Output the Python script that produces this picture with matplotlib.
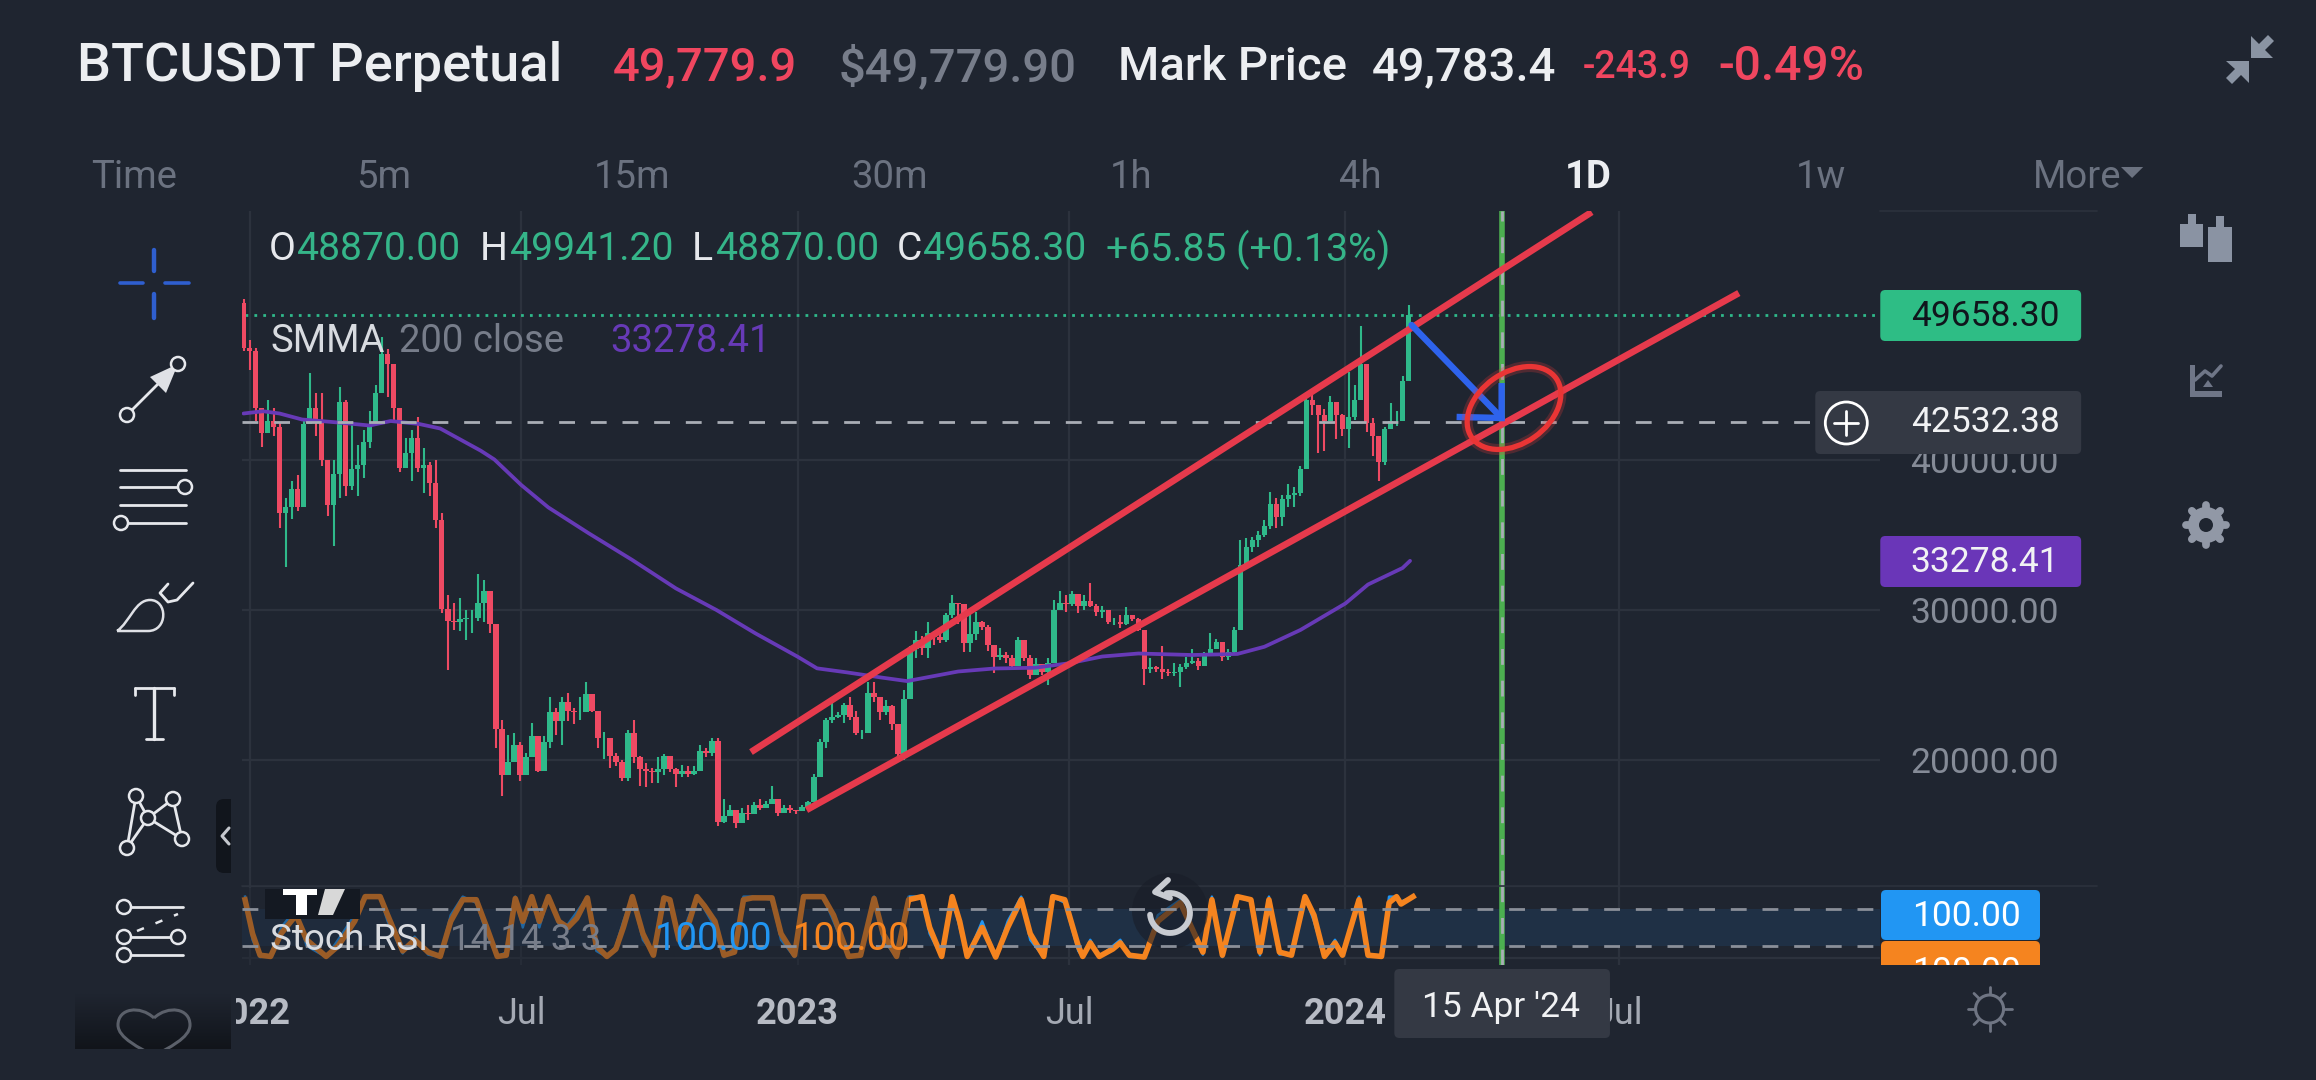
import numpy as np
import matplotlib
matplotlib.use("Agg")
import matplotlib.pyplot as plt
import matplotlib.dates as mdates
from matplotlib.patches import Rectangle, Circle, Ellipse, FancyBboxPatch, Polygon, PathPatch
from matplotlib.path import Path

plt.rcParams['font.family'] = ['Roboto', 'DejaVu Sans']

# ---------- data ----------
first_candle = '2021-12-28'
candle_step_days = 4
first_open = 50.5
close_k = [47.5,47.3,43.5,41.8,42.6,42.2,36.5,36.9,38.1,36.9,42.4,43.5,42.5,40.0,37.0,39.1,
           43.9,38.3,39.4,39.7,41.2,42.4,44.5,47.1,46.4,43.5,39.5,40.5,41.5,39.5,39.7,38.5,
           36.0,30.1,29.3,29.2,29.4,29.5,29.5,30.5,31.3,29.1,22.1,19.0,19.9,21.0,19.0,20.2,
           21.6,19.3,21.2,23.2,22.6,23.9,23.3,23.2,23.2,24.4,23.3,21.5,21.5,20.3,19.9,18.8,
           21.8,20.2,19.4,19.3,19.2,19.4,20.3,19.4,19.1,19.3,19.1,19.3,20.6,20.5,21.3,15.9,
           16.3,16.7,15.8,16.5,16.4,17.0,16.8,17.1,17.4,16.5,16.8,16.7,16.6,16.9,17.2,18.9,
           21.2,22.7,22.9,23.0,23.7,22.9,21.8,21.8,24.5,24.2,23.2,23.6,22.4,20.4,24.1,27.4,
           28.0,27.5,28.5,28.2,28.0,29.7,30.5,30.4,27.8,28.4,29.2,28.9,27.7,26.9,27.0,26.8,
           26.3,28.0,26.8,25.7,26.4,25.9,26.5,30.0,30.5,30.4,31.1,30.3,30.6,30.3,29.9,30.0,
           29.2,29.2,29.1,29.7,29.4,28.7,26.1,26.2,26.1,25.9,25.8,25.9,26.2,26.5,26.6,26.3,
           27.0,27.4,27.9,26.9,27.2,28.7,33.0,34.2,34.7,35.0,35.6,37.1,36.2,37.4,37.7,37.8,
           39.4,44.0,43.7,43.0,42.6,43.9,43.0,42.1,42.9,44.0,46.4,42.5,41.6,39.9,42.1,42.6,
           42.6,45.3,49.66]
high_k = [50.7,48.0,47.5,42.8,44.0,43.5,42.5,37.5,38.6,39.0,42.6,45.8,44.5,44.5,39.5,40.0,
          44.9,44.0,42.5,41.0,42.0,43.3,45.0,48.2,47.4,46.0,43.0,41.5,42.0,42.9,40.8,39.9,
          40.0,36.5,31.0,30.5,30.8,30.0,30.0,32.4,32.0,31.0,29.0,22.7,21.7,21.8,21.2,20.5,
          22.5,21.5,21.6,24.2,23.5,24.2,24.5,23.5,24.2,25.2,24.4,23.2,21.9,20.6,20.5,20.0,
          22.0,22.7,20.3,19.8,19.5,20.2,20.4,20.0,19.5,19.7,19.6,19.6,21.0,20.8,21.5,21.5,
          17.4,17.0,16.6,16.8,17.0,17.2,17.4,17.3,18.3,17.4,17.0,17.0,16.7,17.0,17.3,19.1,
          21.4,22.8,23.8,23.2,23.8,24.2,23.3,22.0,25.2,25.2,24.2,24.0,23.7,22.0,24.7,27.6,
          28.6,28.3,29.2,28.6,28.8,29.8,31.0,30.5,28.5,30.0,29.9,29.3,29.0,27.6,27.5,27.2,
          27.0,28.2,27.4,27.0,26.8,26.4,26.8,30.7,31.3,31.0,31.3,31.0,31.0,31.8,30.4,30.3,
          29.9,29.5,29.7,30.2,29.7,29.5,28.7,26.8,26.3,27.6,26.1,26.5,26.4,26.9,27.4,26.8,
          27.2,28.5,28.1,27.9,27.4,28.9,34.7,34.8,34.9,35.3,36.0,37.9,37.5,37.7,38.4,38.2,
          39.6,44.4,44.7,43.4,43.4,44.3,43.7,43.1,45.9,45.0,48.9,43.5,42.8,41.5,42.2,43.8,
          43.3,45.6,50.3]
low_k = [47.3,46.0,42.6,40.9,41.9,41.6,35.5,32.9,36.1,36.6,37.0,42.8,41.6,39.6,36.3,34.3,
         37.5,37.6,38.0,37.6,38.8,40.8,42.5,44.8,44.2,42.7,39.2,39.6,38.6,39.2,37.8,37.6,
         35.5,29.8,26.0,28.7,28.6,28.0,28.5,29.3,29.2,28.5,20.8,17.6,19.6,20.3,18.6,19.0,
         20.2,19.2,19.6,20.8,21.7,21.0,22.6,22.4,22.7,23.6,23.2,20.8,20.1,19.5,19.6,18.6,
         18.6,19.8,18.3,18.2,18.5,18.5,19.0,19.2,18.2,18.9,18.9,19.0,19.3,20.2,20.3,15.6,
         15.8,16.4,15.5,15.9,16.0,16.8,16.7,16.8,17.1,16.3,16.6,16.5,16.4,16.6,16.8,17.3,
         18.9,20.8,22.5,22.8,22.5,22.7,21.7,21.4,21.8,23.9,22.7,23.0,22.0,20.0,20.0,24.1,
         26.8,27.0,26.8,27.7,27.8,27.9,29.5,29.1,27.2,27.2,28.0,28.7,27.3,25.8,26.7,26.5,
         26.0,26.7,26.6,25.4,26.2,25.7,25.0,26.6,30.0,29.9,30.3,29.8,30.0,30.2,29.6,29.5,
         29.1,29.0,28.8,29.0,29.3,28.6,25.0,25.8,25.9,25.4,25.6,25.6,24.9,26.1,26.4,26.0,
         26.3,27.1,27.4,26.6,26.7,27.1,29.8,33.4,33.9,34.2,34.9,35.4,35.5,35.6,36.9,36.9,
         37.6,39.4,43.0,40.5,40.6,42.6,41.4,41.6,40.8,42.7,44.5,41.9,40.3,38.6,39.7,42.3,
         42.3,42.7,47.6]

smma_dates = ['2021-12-28','2022-01-10','2022-01-21','2022-02-05','2022-03-01','2022-03-22','2022-04-05',
              '2022-04-24','2022-05-08','2022-06-04','2022-06-13','2022-07-01','2022-07-19','2022-08-15',
              '2022-09-13','2022-10-12','2022-11-08','2022-12-04','2023-01-01','2023-01-14','2023-02-03',
              '2023-02-25','2023-03-15','2023-04-18','2023-05-12','2023-06-08','2023-07-01','2023-07-23',
              '2023-08-16','2023-09-21','2023-10-21','2023-11-08','2023-12-02','2024-01-01','2024-01-16',
              '2024-02-08','2024-02-13']
smma_values = [43100,43250,43100,42700,42500,42300,42600,42400,42100,40620,40040,38330,36840,35110,
               33330,31440,30000,28440,26890,26110,25840,25510,25260,25900,26100,26150,26450,26900,
               27100,27000,27070,27550,28670,30440,31700,32800,33278.41]

rsi_origin = '2023-01-01'
rsi_days = [-368,-363,-358,-351,-344,-334,-327,-314,-306,-295,-288,-278,-273,-263,-255,-246,-238,-231,
            -223,-214,-207,-200,-194,-188,-183,-177,-172,-166,-159,-153,-147,-140,-134,-127,-121,-116,
            -110,-103,-96,-89,-85,-79,-72,-67,-62,-55,-49,-42,-36,-30,-17,-11,-2,4,17,24,34,42,51,57,
            66,74,83,88,96,103,108,113,123,132,140,149,155,164,170,178,187,190,195,201,210,215,221,231,
            240,255,270,276,283,293,302,308,314,321,329,338,344,351,358,363,374,380,389,394,399,402,410]
rsi_d = [95,40,5,3,40,70,30,3,20,60,100,100,70,12,30,10,3,60,
         95,95,50,3,5,97,60,100,60,100,60,50,65,98,20,3,15,50,
         100,40,5,98,95,30,60,100,85,60,5,10,95,98,98,40,5,100,100,70,3,5,97,40,
         3,95,100,50,3,100,60,3,50,2,50,95,40,3,100,95,20,3,25,3,15,25,5,2,
         60,90,10,95,5,100,95,10,95,10,5,100,70,3,25,5,95,5,3,90,100,88,100]
rsi_k = [100,30,2,5,50,80,20,2,30,70,100,98,60,8,35,6,2,70,
         100,90,40,2,10,100,50,100,50,100,55,55,75,100,12,2,20,60,
         100,30,8,100,90,25,70,100,80,50,2,18,100,100,95,30,2,100,100,60,2,8,100,30,
         2,100,100,40,2,100,50,2,60,2,60,100,30,2,100,90,12,2,30,2,20,30,2,2,
         70,95,6,100,2,100,92,5,100,6,8,100,60,2,30,6,100,2,5,100,100,92,100]

price_ticks = [20000, 30000, 40000]
x_tick_dates = ['2022-01-01','2022-07-01','2023-01-01','2023-07-01','2024-01-01','2024-07-01']
x_tick_labels = ['2022','Jul','2023','Jul','2024','Jul']
last_close = 49658.30
crosshair_price = 42532.38
last_smma = 33278.41
crosshair_date = '2024-04-14'
upper_channel_dates = ['2022-12-01','2024-06-13']
upper_channel_prices = [20530,56530]
lower_channel_dates = ['2023-01-07','2024-09-19']
lower_channel_prices = [16670,51130]
arrow_dates = ['2024-02-14','2024-04-14']
arrow_prices = [49000,42800]
arrow_barb_dates = ['2024-03-15','2024-04-14','2024-04-14']
arrow_barb_prices = [42870,42800,45130]

# ---------- colours ----------
BG = '#1f2530'
GRID = '#2c323d'
UP = '#2fb98a'
DOWN = '#ee4a63'
RED = '#e63a4c'
PURPLE = '#673ab7'
WHITE = '#e6e8ec'
GREY = '#858b97'
TAB = '#6b7280'
ORANGE = '#f5841f'
BLUE = '#2196f3'

W, H = 2316, 1080
fig = plt.figure(figsize=(W/100, H/100), dpi=100, facecolor=BG)

def px_axes(x0, y0, x1, y1, **kw):
    return fig.add_axes([x0/W, 1-y1/H, (x1-x0)/W, (y1-y0)/H], **kw)

def D(s):
    return mdates.date2num(np.datetime64(s))

def Ds(lst):
    return [D(s) for s in lst]

# ---------- scales ----------
PPD = 1.5013
x_ref = D('2024-01-01')
L, R = 242, 1880
xlim = (x_ref + (L-1345.5)/PPD, x_ref + (R-1345.5)/PPD)

ax = px_axes(L, 211, R, 886, facecolor=BG)
rx = px_axes(L, 886, R, 965, facecolor=BG)
for a in (ax, rx):
    a.set_xlim(*xlim)
    for s in a.spines.values():
        s.set_visible(False)
    a.set_xticks(Ds(x_tick_dates))
    a.grid(True, axis='x', color=GRID, lw=1.6)
    a.set_axisbelow(True)
ax.set_ylim(40000-(886-460)/0.015, 40000+(460-211)/0.015)
rx.set_ylim((958.3-965)/0.6167, (958.3-886)/0.6167)

ax.tick_params(axis='x', length=0, labelbottom=False)
ax.yaxis.tick_right()
ax.set_yticks(price_ticks)
ax.set_yticklabels(['%.2f' % p for p in price_ticks], fontsize=25.5, color=GREY)
ax.tick_params(axis='y', length=0, pad=22)
ax.grid(True, axis='y', color=GRID, lw=1.6)

rx.set_xticklabels(x_tick_labels, fontsize=26, color='#a4a9b3')
for lab, t in zip(rx.get_xticklabels(), x_tick_labels):
    if t.isdigit():
        lab.set_fontweight('bold')
        lab.set_color('#b7bbc4')
rx.tick_params(axis='x', length=0, pad=22)
rx.set_yticks([0, 117])
rx.set_yticklabels([])
rx.tick_params(axis='y', length=0)
rx.grid(True, axis='y', color=GRID, lw=1.6)

# ---------- candles ----------
close_v = np.array(close_k)*1000
high_v = np.array(high_k)*1000
low_v = np.array(low_k)*1000
open_v = np.r_[first_open*1000, close_v[:-1]]
dates = D(first_candle) + np.arange(len(close_v))*candle_step_days
cols = [UP if c >= o else DOWN for o, c in zip(open_v, close_v)]
ax.vlines(dates, low_v, high_v, colors=cols, lw=1.5, zorder=3)
ax.bar(dates, np.abs(close_v-open_v), bottom=np.minimum(open_v, close_v), width=3.7, color=cols, zorder=3, lw=0)

# ---------- lines on the price pane ----------
ax.plot(Ds(smma_dates), smma_values, color=PURPLE, lw=2.7, zorder=4, solid_capstyle='round')
ax.axhline(last_close, xmin=0.002, color=UP, lw=2.0, ls=(0, (1, 2.2)), zorder=2)
ax.axvline(D(crosshair_date), color='#4caf50', lw=4.0, zorder=4)
ax.axvline(D(crosshair_date), color='#a9adb5', lw=2.0, ls=(0, (5.7, 5.7)), zorder=4.5)
ax.axhline(crosshair_price, color='#a9adb5', lw=2.0, ls=(0, (5.7, 5.7)), zorder=4.5)
ax.plot(Ds(upper_channel_dates), upper_channel_prices, color=RED, lw=4.8, zorder=5, solid_capstyle='butt')
ax.plot(Ds(lower_channel_dates), lower_channel_prices, color=RED, lw=4.8, zorder=5, solid_capstyle='butt')
ax.plot(Ds(arrow_dates), arrow_prices, color='#2e63ec', lw=4.6, zorder=6, solid_capstyle='round')
ax.plot(Ds(arrow_barb_dates), arrow_barb_prices, color='#2e63ec', lw=4.6, zorder=6, solid_capstyle='butt', solid_joinstyle='miter')

# ---------- stochastic pane ----------
rd = D(rsi_origin) + np.array(rsi_days)
rx.axhspan(20, 80, color='#1f3045', lw=0, zorder=1)
rx.plot(rd, rsi_k, color=BLUE, lw=1.8, zorder=3, clip_on=False)
rx.plot(rd, rsi_d, color=ORANGE, lw=4.0, zorder=4, clip_on=False, solid_joinstyle='round')
rx.axvline(D(crosshair_date), color='#4caf50', lw=4.0, zorder=2)
rx.axvline(D(crosshair_date), color='#a9adb5', lw=2.0, ls=(0, (5.7, 5.7)), zorder=2.5)

# ---------- overlay for the app chrome ----------
ov = fig.add_axes([0, 0, 1, 1], zorder=10, facecolor='none')
ov.set_xlim(0, W)
ov.set_ylim(H, 0)
ov.axis('off')

def T(x, y, s, size, color, ha='left', weight='normal', va='center', z=20, **kw):
    return ov.text(x, y, s, fontsize=size, color=color, ha=ha, va=va, fontweight=weight, zorder=z, **kw)

def S(x):
    return x*W/1568

def rrect(x0, y0, x1, y1, color, r=5, z=12, alpha=1):
    p = FancyBboxPatch((x0+r, y0+r), x1-x0-2*r, y1-y0-2*r, boxstyle=f'round,pad={r},rounding_size={r}',
                       fc=color, ec='none', zorder=z, alpha=alpha)
    ov.add_patch(p)
    return p

def seg(xs, ys, color=WHITE, lw=2, z=15, **kw):
    ov.plot(xs, ys, color=color, lw=lw, zorder=z, solid_capstyle='round', **kw)

def ring(x, y, r=7, color=WHITE, lw=1.8, z=16):
    ov.add_patch(Circle((x, y), r, fc=BG, ec=color, lw=lw, zorder=z))

# long grid lines reaching past the price axis
seg([R, 2097], [211, 211], GRID, 1.2, z=1)
seg([L, 2097], [886, 886], GRID, 1.2, z=1)

# dim veil over the stochastic line below the legend
ov.add_patch(Rectangle((L, 888), 909-L, 78, fc=BG, ec='none', alpha=0.42, zorder=5))
ov.add_patch(Circle((1170, 911), 38, fc='#191e28', ec='none', alpha=0.62, zorder=5))
# stochastic guide lines above the line
seg([L, R], [909, 909], '#8a8f99', 2.0, z=6, ls=(0, (5.7, 5.7)))
seg([L, R], [946, 946], '#8a8f99', 2.0, z=6, ls=(0, (5.7, 5.7)))

# header
HY = 67
T(77, HY, 'BTCUSDT Perpetual', 39, '#eceef1', weight='medium')
T(613, HY, '49,779.9', 34, '#f0465f', weight='medium')
T(839, HY, '$49,779.90', 34, '#777d8a', weight='medium')
T(1118, HY, 'Mark Price', 34, '#eceef1', weight='medium')
T(1372, HY, '49,783.4', 34, '#eceef1', weight='medium')
T(1583, HY, '-243.9', 27, '#f0465f', weight='medium')
T(1718, HY, '-0.49%', 34.5, '#f0465f', weight='medium')

# tabs
TY = 178
T(S(62), TY, 'Time', 27.5, TAB)
for cx, s in [(260, '5m'), (428, '15m'), (602, '30m'), (766, '1h'), (921, '4h'), (1233, '1w')]:
    T(S(cx), TY, s, 27.5, TAB, ha='center')
T(S(1075), TY, '1D', 27.5, '#eceef1', ha='center', weight='bold')
T(S(1376), TY, 'More', 27.5, TAB)
ov.add_patch(Polygon([(S(1436), 167), (S(1451), 167), (S(1443.5), 178)], fc=TAB, ec='none', zorder=20))

# legend rows
OY = 250
GREEN_T = '#35b589'
for x, s, c in [(182, 'O', WHITE), (201, '48870.00', GREEN_T), (325, 'H', WHITE), (345, '49941.20', GREEN_T),
                (468, 'L', WHITE), (485, '48870.00', GREEN_T), (607, 'C', WHITE), (625, '49658.30', GREEN_T),
                (749, '+65.85 (+0.13%)', GREEN_T)]:
    T(S(x), OY, s, 28.2, c)
SY = 341
T(S(183), SY, 'SMMA', 27.5, '#d8dbe0')
T(S(270), SY, '200 close', 27.5, '#777d8a')
T(S(413), SY, '33278.41', 27.5, PURPLE)

# stochastic legend + logo
ov.add_patch(Rectangle((265, 889), 95, 30, fc='#141922', ec='none', zorder=7))
ov.add_patch(Polygon([(283, 889), (317, 889), (317, 895), (307, 895), (307, 915), (296, 915), (296, 895), (283, 895)],
                     fc='white', ec='none', zorder=8))
ov.add_patch(Polygon([(325, 889), (345, 889), (333, 915), (318, 915)], fc='#d8d8d8', ec='none', zorder=8))
LY = 940
T(S(183), LY, 'Stoch RSI', 26.5, '#d8dbe0')
T(S(305), LY, '14 14 3 3', 26.5, '#777d8a')
T(S(443), LY, '100.00', 27.5, BLUE)
T(S(537), LY, '100.00', 27.5, ORANGE)

# undo icon
th = np.linspace(np.radians(-100), np.radians(175), 40)
seg(1170+20*np.cos(th), 913+20*np.sin(th), '#c8cbd1', 4.2)
seg([1168, 1155, 1170], [880, 892, 898], '#c8cbd1', 4.2)

# price labels
LX0, LX1 = S(1273), S(1409)
LC = 1985
rrect(LX0, 290, LX1, 341, '#2ebd85')
T(LC, 316, '49658.30', 25.5, '#10151c', ha='center')
rrect(S(1229), 391, LX1, 454, '#343944')
T(LC, 423, '42532.38', 25.5, '#f1f2f4', ha='center')
ov.add_patch(Circle((S(1250), 423), 21, fc='none', ec='white', lw=2, zorder=16))
seg([S(1250)-12, S(1250)+12], [423, 423], 'white', 2)
seg([S(1250), S(1250)], [411, 435], 'white', 2)
rrect(LX0, 536, LX1, 587, '#6a36b8')
T(LC, 562, '33278.41', 25.5, '#f1f2f4', ha='center')
rrect(1881, 890, 2040, 940, BLUE)
T(1966, 916, '100.00', 25.5, 'white', ha='center')
orange_box = rrect(1881, 941, 2040, 975, ORANGE)
clip = Rectangle((1881, 880), 170, 85, transform=ov.transData)
orange_box.set_clip_path(clip)
t = T(1966, 973, '100.00', 25.5, 'white', ha='center')
t.set_clip_on(True)
t.set_clip_path(clip)

# ellipse annotation
ov.add_patch(Ellipse((1514, 408), 103, 71, angle=-35, fc='none', ec='#e63a3a', lw=8, alpha=0.25, zorder=11))
ov.add_patch(Ellipse((1514, 408), 103, 71, angle=-35, fc='none', ec='#ea3535', lw=3.8, zorder=11))

# date bubble
rrect(S(944), 969, S(1090), 1038, '#343944', r=5)
T(S(1016), 1007, "15 Apr '24", 25.5, '#f1f2f4', ha='center')

# left toolbar
BL = '#2f5fcf'
seg([120, 143], [283, 283], BL, 2.6)
seg([165, 189], [283, 283], BL, 2.6)
seg([154, 154], [250, 271], BL, 3.2)
seg([154, 154], [294, 318], BL, 3.2)
IC = '#dfe1e6'
seg([127, 178], [415, 364])
ov.add_patch(Polygon([(178, 364), (150, 377), (166, 393)], fc=IC, ec='none', zorder=15))
ring(127, 415); ring(178, 364)
for y, x0, x1 in [(470, 120, 186), (487, 120, 186), (505, 120, 186), (523, 121, 186)]:
    seg([x0, x1], [y, y])
ring(185, 487); ring(121, 523)
brush = Path([(117, 631), (130, 622), (135, 600), (150, 600), (168, 600), (168, 631), (148, 631), (135, 631), (125, 631), (117, 631)],
             [Path.MOVETO] + [Path.CURVE4]*9)
ov.add_patch(PathPatch(brush, fc='none', ec=IC, lw=1.8, zorder=15))
seg([193, 177, 168, 160, 168], [583, 600, 602, 593, 584])
seg([135, 174], [688, 688]); seg([135, 135], [688, 695]); seg([174, 174], [688, 695])
seg([154, 154], [688, 739], lw=2.4); seg([146, 163], [739, 739])
pts = {'a': (136, 796), 'b': (173, 799), 'c': (148, 818), 'd': (127, 848), 'e': (182, 839)}
for p, q in [('a', 'c'), ('a', 'd'), ('c', 'd'), ('c', 'b'), ('c', 'e'), ('b', 'e')]:
    seg([pts[p][0], pts[q][0]], [pts[p][1], pts[q][1]])
for v in pts.values():
    ring(*v)
seg([124, 183], [907, 907]); seg([124, 178], [937, 937]); seg([124, 183], [955, 955])
seg([137, 178], [931, 914], lw=1.8, ls=(0, (3, 5)))
for v in [(124, 907), (124, 937), (124, 955), (178, 937)]:
    ring(*v)

# favourite box at the bottom of the toolbar, hiding the start of the date row
ov.add_patch(Rectangle((75, 969), 161, 80, fc=BG, ec='none', zorder=13))
shade = np.linspace(1.0, 0.55, 30)[:, None, None] * np.array([[[0x1f, 0x25, 0x30]]])/255
ov.imshow(shade, extent=(75, 231, 1049, 993), aspect='auto', zorder=14)
ov.set_xlim(0, W); ov.set_ylim(H, 0)
heart = Path([(154, 1018), (140, 1005), (118, 1008), (118, 1025), (118, 1038), (140, 1048), (154, 1056),
              (168, 1048), (190, 1038), (190, 1025), (190, 1008), (168, 1005), (154, 1018)],
             [Path.MOVETO] + [Path.CURVE4]*12)
hp = PathPatch(heart, fc='none', ec='#5b606a', lw=2.2, zorder=15)
ov.add_patch(hp)
hp.set_clip_path(Rectangle((75, 993), 156, 56, transform=ov.transData))

# collapse tab
rrect(216, 799, 240, 873, '#11151c', r=8, z=12)
ov.add_patch(Rectangle((231, 795), 12, 82, fc=BG, ec='none', zorder=12.5))
seg([229, 222, 229], [828, 836, 844], '#c4c7cd', 2.2)

# right icons
IR = '#8a93a3'
for x0, y0, x1, y1 in [(2180, 224, 2203, 247), (2188, 214, 2196, 224), (2208, 227, 2232, 262), (2216, 216, 2224, 227)]:
    ov.add_patch(Rectangle((x0, y0), x1-x0, y1-y0, fc=IR, ec='none', zorder=15))
IC2 = '#6f7687'
ov.add_patch(Polygon([(2190, 365), (2195, 365), (2195, 391), (2222, 391), (2222, 397), (2190, 397)], fc=IC2, ec='none', zorder=15))
seg([2195, 2205, 2212, 2221], [380, 371, 376, 366], IC2, 2.6)
ov.add_patch(Polygon([(2208, 380), (2203, 387), (2213, 387)], fc=IC2, ec='none', zorder=15))
gx, gy = 2206, 525
GC = '#9198a6'
for ang in np.arange(0, 360, 45):
    a = np.radians(ang)
    seg([gx+14*np.cos(a), gx+20*np.cos(a)], [gy+14*np.sin(a), gy+20*np.sin(a)], GC, 5.6)
ov.add_patch(Circle((gx, gy), 18, fc=GC, ec='none', zorder=15))
ov.add_patch(Circle((gx, gy), 7, fc=BG, ec='none', zorder=16))
# compress icon
CC = '#8a94a3'
ov.add_patch(Polygon([(2251, 58), (2251, 36), (2259, 44), (2268, 35), (2274, 41), (2265, 50), (2273, 58)], fc=CC, ec='none', zorder=15))
ov.add_patch(Polygon([(2249, 61), (2249, 83), (2241, 75), (2232, 84), (2226, 78), (2235, 69), (2226, 61)], fc=CC, ec='none', zorder=15))
# sun icon
sx, sy = S(1347), 1009
ov.add_patch(Circle((sx, sy), 14, fc='none', ec='#6f7583', lw=2.2, zorder=15))
for ang in np.arange(0, 360, 45):
    a = np.radians(ang)
    seg([sx+15*np.cos(a), sx+22*np.cos(a)], [sy+15*np.sin(a), sy+22*np.sin(a)], '#6f7583', 2)

fig.savefig('out.png', dpi=100, facecolor=BG)
